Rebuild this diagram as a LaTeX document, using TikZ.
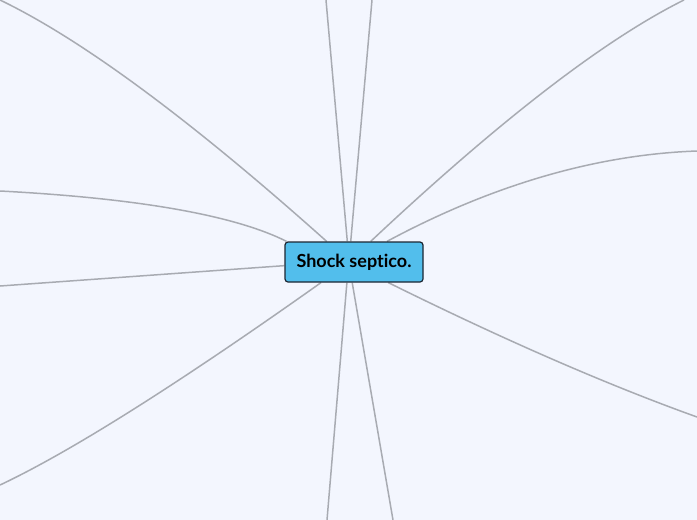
\documentclass[tikz,border=0pt]{standalone}
\usepackage{fontspec}
\setmainfont{Lato}[Ligatures={NoCommon,NoContextual}]
\usetikzlibrary{backgrounds}
\definecolor{bgc}{RGB}{243,246,254}
\definecolor{linec}{RGB}{168,171,178}
\definecolor{nodefill}{RGB}{82,190,236}
\definecolor{nodeedge}{RGB}{28,38,50}
\begin{document}
\begin{tikzpicture}[x=1pt,y=-1pt,
  conn/.style={draw=linec,line width=1.5pt},
  rootbox/.style={draw=nodeedge,fill=nodefill,line width=1.2pt,rounded corners=3pt,
    minimum width=138pt,minimum height=40pt,inner sep=0pt,
    font=\bfseries\fontsize{18}{21}\selectfont,text=black}]
\useasboundingbox (0,0) rectangle (697,520);
\node[rootbox] (root) at (354,262) {Shock septico.};
\coordinate (e1) at (0,0);
\coordinate (e2) at (326,0);
\coordinate (e3) at (372,0);
\coordinate (e4) at (684,0);
\coordinate (e5) at (697,151);
\coordinate (e6) at (697,417);
\coordinate (e7) at (393,520);
\coordinate (e8) at (327,520);
\coordinate (e9) at (0,485);
\coordinate (e10) at (0,286);
\coordinate (e11) at (0,191);
\begin{pgfonlayer}{background}
\fill[bgc] (0,0) rectangle (697,520);
\draw[conn] (e1) .. controls (81.7,39.3) and (190.8,119.9) .. (root.143.2);
\draw[conn] (e2) -- (root.108.8);
\draw[conn] (e3) -- (root.99.1);
\draw[conn] (e4) .. controls (604.8,39.3) and (500.1,119.9) .. (root.51.7);
\draw[conn] (e5) .. controls (596.2,154.6) and (492.2,184.9) .. (root.32.9);
\draw[conn] (e6) .. controls (605.4,384.1) and (502.5,339.1) .. (root.329.8);
\draw[conn] (e7) -- (root.265.4);
\draw[conn] (e8) -- (root.251.5);
\draw[conn] (e9) .. controls (70.7,451.7) and (178,384) .. (root.212);
\draw[conn] (e10) -- (root.183.3);
\draw[conn] (e11) .. controls (138.7,198.3) and (234.7,215.3) .. (root.163.1);
\end{pgfonlayer}
\end{tikzpicture}
\end{document}
